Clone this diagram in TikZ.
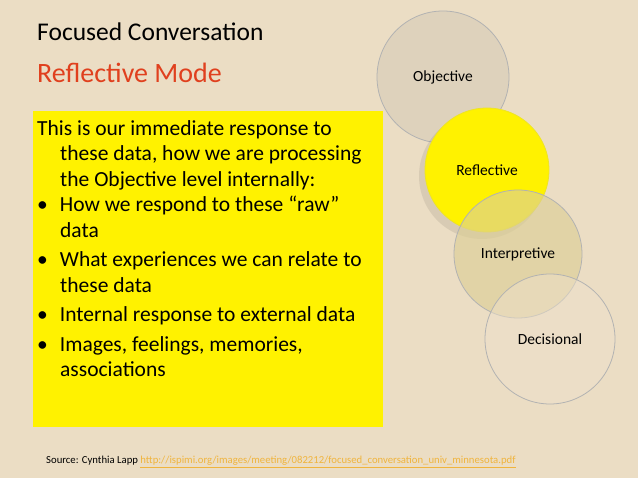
\documentclass[tikz,border=0pt]{standalone}
\usepackage{fontspec}
\setmainfont{Carlito}
\begin{document}
\begin{tikzpicture}[x=1pt,y=-1pt,
  circ/.style={circle,draw=gray!60,line width=0.8pt,inner sep=0pt,font=\fontsize{15.5}{18}\selectfont},
  txt/.style={anchor=north west,inner sep=0pt,align=left}]
\definecolor{bg}{HTML}{EBDDC4}
\definecolor{ttl}{HTML}{E0401E}
\definecolor{lnk}{HTML}{F0B43C}
\fill[bg] (0,0) rectangle (638,478);
\node[txt,font=\fontsize{25.5}{30}\selectfont] (t1) at (37,23) {Focused Conversation};
\node[txt,font=\fontsize{28}{32}\selectfont,text=ttl] (t2) at (37,63) {Reflective Mode};
\fill[yellow] (33,111) rectangle (383,427);
\node[txt,font=\fontsize{21.5}{25.5}\selectfont] (body) at (37,120) {%
This is our immediate response to\\
\hspace*{23pt}these data, how we are processing\\
\hspace*{23pt}the Objective level internally:\\
\textbullet\hspace{12pt}How we respond to these “raw”\\
\hspace*{23pt}data\\[4pt]
\textbullet\hspace{12pt}What experiences we can relate to\\
\hspace*{23pt}these data\\[4pt]
\textbullet\hspace{12pt}Internal response to external data\\[4pt]
\textbullet\hspace{12pt}Images, feelings, memories,\\
\hspace*{23pt}associations};
\node[circ,fill=gray!12!bg,minimum size=132pt] (obj) at (443,77) {Objective};
\fill[black,opacity=0.08] (482,176) circle (63);
\node[circ,fill=yellow,draw=yellow!85!gray,minimum size=124pt] (ref) at (487,170) {Reflective};
\node[circ,fill=olive!18!bg,fill opacity=0.65,text opacity=1,minimum size=128pt] (int) at (518,254) {Interpretive};
\node[circ,fill=bg!90!white,fill opacity=0.5,text opacity=1,minimum size=130pt] (dec) at (550,339) {Decisional};
\node[txt,font=\fontsize{10.7}{12}\selectfont] (src) at (46,456) {Source: Cynthia Lapp \textcolor{lnk}{\underline{http://ispimi.org/images/meeting/082212/focused\_conversation\_univ\_minnesota.pdf}}};
\end{tikzpicture}
\end{document}
